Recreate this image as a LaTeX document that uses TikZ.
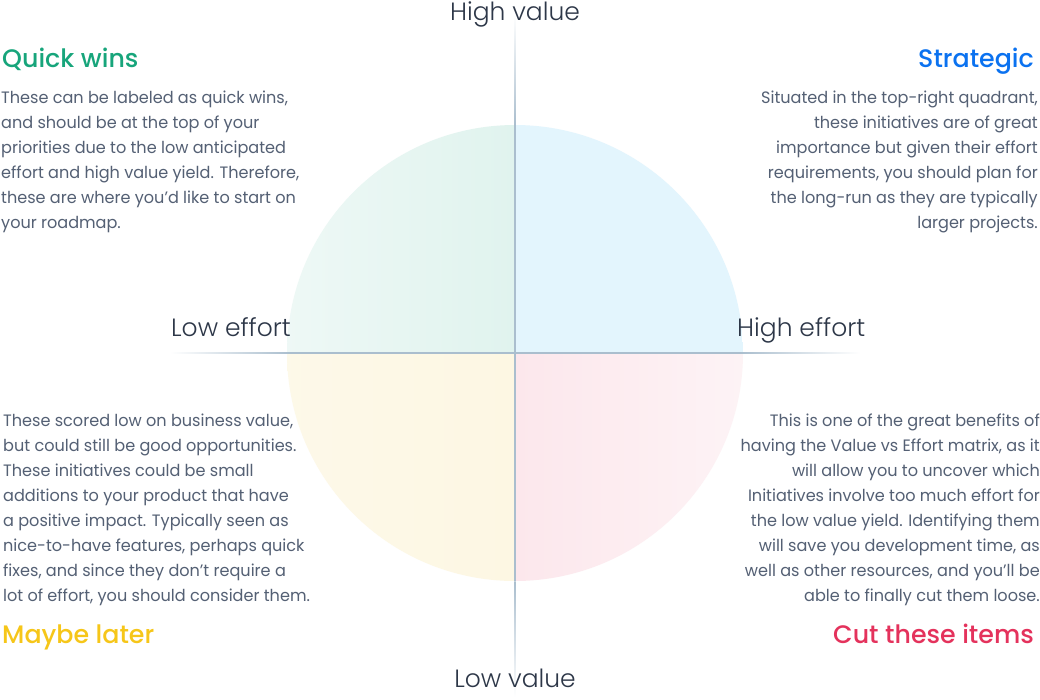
\documentclass[tikz,border=0pt]{standalone}
\usepackage{fontspec}
\setmainfont{Poppins}[FakeStretch=0.975]
\newfontfamily\axisfont{Poppins Light}
\newfontfamily\titlefont{Poppins Medium}
\usepackage{xcolor}
\definecolor{ColGreen}{RGB}{23,165,123}
\definecolor{ColBlue}{RGB}{11,114,240}
\definecolor{ColYellow}{RGB}{246,198,25}
\definecolor{ColRed}{RGB}{228,50,92}
\definecolor{ColText}{RGB}{84,96,116}
\definecolor{ColAxisText}{RGB}{45,55,72}
\definecolor{ColAxis}{RGB}{170,190,206}
\definecolor{FillGreen}{RGB}{224,243,238}
\definecolor{FillBlue}{RGB}{227,245,253}
\definecolor{FillYellow}{RGB}{253,247,227}
\definecolor{FillRed}{RGB}{252,231,236}
\tikzstyle{Title}=[inner sep=0pt,font=\titlefont\fontsize{25.3}{26}\selectfont]
\tikzstyle{Body}=[inner sep=0pt,text=ColText,font=\fontsize{16.5}{25}\selectfont]
\tikzstyle{AxisLabel}=[inner sep=0pt,text=ColAxisText,font=\axisfont\fontsize{25}{25}\selectfont]
\tikzstyle{AxisLine}=[draw=none,fill=ColAxis]

\begin{document}
\begin{tikzpicture}[x=1pt,y=-1pt]
    \useasboundingbox[fill=white](0,0)rectangle(1040,699);
    % quadrants
    \begin{scope}
        \clip(515,353)circle[radius=228];
        \shade[left color=FillGreen!55,right color=FillGreen](287,125)rectangle(515,353);
        \fill[FillBlue](515,125)rectangle(743,353);
        \shade[left color=FillYellow!80,right color=FillYellow](287,353)rectangle(515,581);
        \shade[left color=FillRed,right color=FillRed!50](515,353)rectangle(743,581);
    \end{scope}
    % axes
    \shade[left color=white,right color=ColAxis](170,352.4)rectangle(290,353.6);
    \fill[AxisLine](290,352.4)rectangle(740,353.6);
    \shade[left color=ColAxis,right color=white](740,352.4)rectangle(860,353.6);
    \shade[top color=white,bottom color=ColAxis](514.4,14)rectangle(515.6,125);
    \fill[AxisLine](514.4,125)rectangle(515.6,581);
    \shade[top color=ColAxis,bottom color=white](514.4,581)rectangle(515.6,697);
    % axis labels
    \node[AxisLabel,anchor=base](HighValue)at(515,20){High value};
    \node[AxisLabel,anchor=base](LowValue)at(515,687){Low value};
    \node[AxisLabel,anchor=base east](LowEffort)at(291,336){Low effort};
    \node[AxisLabel,anchor=base west](HighEffort)at(737,336){High effort};
    % titles
    \node[Title,text=ColGreen,anchor=base west](QuickWins)at(2,67){Quick wins};
    \node[Title,text=ColBlue,anchor=base east](Strategic)at(1034,67){Strategic};
    \node[Title,text=ColYellow,anchor=base west](MaybeLater)at(2,643){Maybe later};
    \node[Title,text=ColRed,anchor=base east](CutItems)at(1034,643){Cut these items};
    % descriptions (anchored at the last line)
    \node[Body,align=left,anchor=base west](QuickWinsText)at(1,228)
        {These can be labeled as quick wins,\\
        and should be at the top of your\\
        priorities due to the low anticipated\\
        effort and high value yield. Therefore,\\
        these are where you’d like to start on\\
        your roadmap.};
    \node[Body,align=right,anchor=base east](StrategicText)at(1038,228)
        {Situated in the top-right quadrant,\\
        these initiatives are of great\\
        importance but given their effort\\
        requirements, you should plan for\\
        the long-run as they are typically\\
        larger projects.};
    \node[Body,align=left,anchor=base west](MaybeLaterText)at(3,601)
        {These scored low on business value,\\
        but could still be good opportunities.\\
        These initiatives could be small\\
        additions to your product that have\\
        a positive impact. Typically seen as\\
        nice-to-have features, perhaps quick\\
        fixes, and since they don’t require a\\
        lot of effort, you should consider them.};
    \node[Body,align=right,anchor=base east](CutItemsText)at(1040,601)
        {This is one of the great benefits of\\
        having the Value vs Effort matrix, as it\\
        will allow you to uncover which\\
        Initiatives involve too much effort for\\
        the low value yield. Identifying them\\
        will save you development time, as\\
        well as other resources, and you’ll be\\
        able to finally cut them loose.};
\end{tikzpicture}
\end{document}
